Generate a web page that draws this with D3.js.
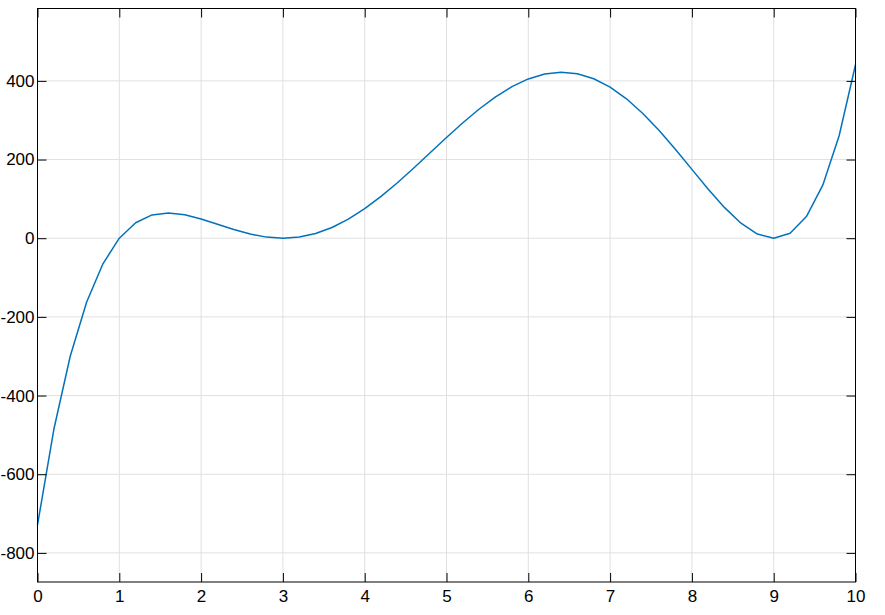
<!DOCTYPE html>
<html>
<head>
<meta charset="utf-8">
<script src="https://cdn.jsdelivr.net/npm/d3@7"></script>
<style>
  body { margin: 0; background: #fff; }
  svg text { font-family: "Liberation Sans", Arial, Helvetica, sans-serif; }
</style>
</head>
<body>
<div id="chart"></div>
<script>
// sampled curve, x every 0.2
const xs = [0, 0.2, 0.4, 0.6, 0.8, 1, 1.2, 1.4, 1.6, 1.8, 2, 2.2, 2.4, 2.6, 2.8, 3, 3.2, 3.4, 3.6, 3.8,
  4, 4.2, 4.4, 4.6, 4.8, 5, 5.2, 5.4, 5.6, 5.8, 6, 6.2, 6.4, 6.6, 6.8, 7, 7.2, 7.4, 7.6, 7.8,
  8, 8.2, 8.4, 8.6, 8.8, 9, 9.2, 9.4, 9.6, 9.8, 10];
const ys = [-729, -485.7, -300, -162.6, -65.1, 0, 39.4, 59.2, 64.4, 59.7, 49, 35.5, 22, 10.5, 2.8, 0, 3, 12, 27.3, 48.5,
  75, 106.2, 141, 178.4, 217.2, 256, 293.5, 328.5, 359.5, 385.4, 405, 417.5, 422, 418, 405.4, 384, 354.4, 317.2, 273.7, 225.6,
  175, 124.6, 77.7, 38.1, 10.5, 0, 12.6, 55, 134.9, 260.4, 441];
const xTicks = [0, 1, 2, 3, 4, 5, 6, 7, 8, 9, 10];
const yTicks = [-800, -600, -400, -200, 0, 200, 400];

const W = 885, H = 615;
const margin = { top: 8.5, right: 29.5, bottom: 33, left: 37.5 };

const svg = d3.select('#chart').append('svg')
  .attr('width', W).attr('height', H);

const x = d3.scaleLinear().domain([0, 10]).range([margin.left, W - margin.right]);
const y = d3.scaleLinear().domain([-874, 584]).range([H - margin.bottom, margin.top]);

// grid
svg.append('g').selectAll('line').data(xTicks).join('line')
  .attr('x1', d => x(d)).attr('x2', d => x(d))
  .attr('y1', margin.top).attr('y2', H - margin.bottom)
  .attr('stroke', '#e0e0e0').attr('stroke-width', 1);
svg.append('g').selectAll('line').data(yTicks).join('line')
  .attr('x1', margin.left).attr('x2', W - margin.right)
  .attr('y1', d => y(d)).attr('y2', d => y(d))
  .attr('stroke', '#e0e0e0').attr('stroke-width', 1);

// curve
const line = d3.line().x((d, i) => x(xs[i])).y(d => y(d));
svg.append('path').datum(ys)
  .attr('d', line)
  .attr('fill', 'none')
  .attr('stroke', '#0072bd')
  .attr('stroke-width', 1.5)
  .attr('stroke-linejoin', 'round');

// axes, ticks pointing inward on all four sides
const tickLen = 9;
const styleAxis = g => {
  g.attr('font-size', null).attr('font-family', null);
  g.select('.domain').remove();
  g.selectAll('line').attr('stroke', '#000').attr('stroke-width', 1);
  g.selectAll('text').attr('fill', '#000').style('font-size', '17px');
};
svg.append('g')
  .attr('transform', `translate(0,${H - margin.bottom})`)
  .call(d3.axisBottom(x).tickValues(xTicks).tickSizeInner(-tickLen).tickSizeOuter(0).tickPadding(8))
  .call(styleAxis);
svg.append('g')
  .attr('transform', `translate(0,${margin.top})`)
  .call(d3.axisTop(x).tickValues(xTicks).tickSizeInner(-tickLen).tickSizeOuter(0).tickFormat(''))
  .call(styleAxis);
svg.append('g')
  .attr('transform', `translate(${margin.left},0)`)
  .call(d3.axisLeft(y).tickValues(yTicks).tickSizeInner(-tickLen).tickSizeOuter(0).tickPadding(3)
    .tickFormat(d => d < 0 ? '-' + Math.abs(d) : d))
  .call(styleAxis);
svg.append('g')
  .attr('transform', `translate(${W - margin.right},0)`)
  .call(d3.axisRight(y).tickValues(yTicks).tickSizeInner(-tickLen).tickSizeOuter(0).tickFormat(''))
  .call(styleAxis);

// box
svg.append('rect')
  .attr('x', margin.left).attr('y', margin.top)
  .attr('width', W - margin.left - margin.right)
  .attr('height', H - margin.top - margin.bottom)
  .attr('fill', 'none').attr('stroke', '#000').attr('stroke-width', 1);
</script>
</body>
</html>
